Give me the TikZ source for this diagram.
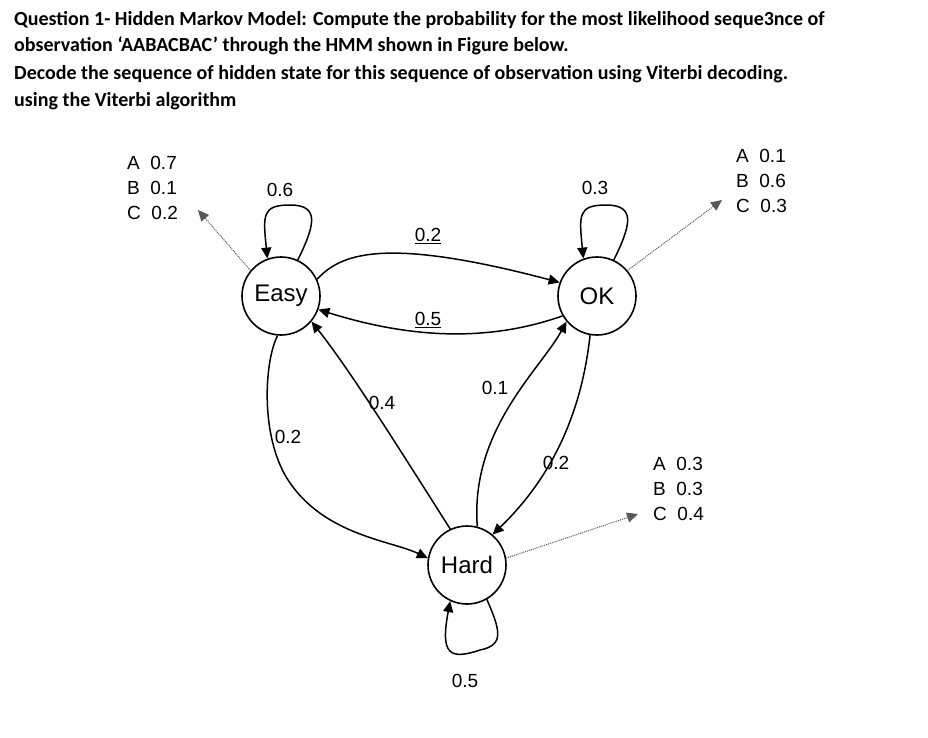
\documentclass[tikz,border=0pt]{standalone}
\usepackage{fontspec}
\setmainfont{Liberation Sans}
\newfontfamily\titlefont{Carlito}
\usetikzlibrary{arrows.meta}
\begin{document}
\begin{tikzpicture}[x=1pt,y=-1pt,
  st/.style={circle,draw,line width=1.6pt,minimum size=78pt,inner sep=0pt,font=\fontsize{24}{26}\selectfont},
  ed/.style={line width=1.5pt,-{Triangle[length=11pt,width=10pt]}},
  em/.style={densely dotted,line width=1pt,gray!70!black,-{Triangle[length=11pt,width=10pt]}},
  lb/.style={font=\fontsize{19}{21}\selectfont,inner sep=1pt},
  emt/.style={font=\fontsize{19}{25}\selectfont,align=left,anchor=north west,inner sep=0pt},
  tl/.style={font=\titlefont\bfseries\fontsize{20}{22}\selectfont,anchor=base west,inner sep=0pt}]
\useasboundingbox (0,0) rectangle (928,737);
\fill[white] (0,0) rectangle (928,737);
\node[tl] (t1) at (14,25) {Question 1- Hidden Markov Model: Compute the probability for the most likelihood seque3nce of};
\node[tl] (t2) at (14,51) {observation ‘AABACBAC’ through the HMM shown in Figure below.};
\node[tl] (t3) at (14,79) {Decode the sequence of hidden state for this sequence of observation using Viterbi decoding.};
\node[tl] (t4) at (14,106) {using the Viterbi algorithm};

\node[st] (E) at (281,296) {Easy};
\node[st] (O) at (597,296) {OK};
\node[st] (H) at (467,565) {Hard};

\node[emt] (eE) at (127,156) {A\ \ 0.7\\B\ \ 0.1\\C\ \ 0.2};
\node[emt] (eO) at (736,149) {A\ \ 0.1\\B\ \ 0.6\\C\ \ 0.3};
\node[emt] (eH) at (653,457) {A\ \ 0.3\\B\ \ 0.3\\C\ \ 0.4};

\coordinate (cE) at (198,210);
\coordinate (cO) at (722,200);
\coordinate (cH) at (638,514);
\draw[em] (E.140) -- (cE);
\draw[em] (O.40) -- (cO);
\draw[em] (H.10) -- (cH);

% self loops
\draw[ed] (E.65) .. controls (315,225) and (320,205) .. (290,205) .. controls (262,205) and (263,215) .. (E.110);
\node[lb] (l1) at (280,190) {0.6};
\draw[ed] (O.65) .. controls (631,225) and (636,205) .. (606,205) .. controls (578,205) and (579,215) .. (O.110);
\node[lb] (l2) at (595,188) {0.3};
\draw[ed] (H.-60) .. controls (500,630) and (505,645) .. (480,650) .. controls (450,660) and (440,655) .. (H.-115);
\node[lb] (l3) at (465,681) {0.5};

% between states
\draw[ed] (E.25) .. controls (340,255) and (380,235) .. (O.160);
\node[lb] (l4) at (428,236) {\underline{0.2}};
\draw[ed] (O.-150) .. controls (480,345) and (400,335) .. (E.-20);
\node[lb] (l5) at (428,320) {\underline{0.5}};
\draw[ed] (E.-95) .. controls (265,360) and (260,430) .. (285,475) .. controls (320,535) and (390,540) .. (H.170);
\node[lb] (l6) at (288,437) {0.2};
\draw[ed] (H.115) .. controls (400,450) and (350,370) .. (E.-40);
\node[lb] (l7) at (382,403) {0.4};
\draw[ed] (H.75) .. controls (470,430) and (540,370) .. (O.-140);
\node[lb] (l8) at (495,388) {0.1};
\draw[ed] (O.-100) .. controls (585,380) and (570,460) .. (H.50);
\node[lb] (l9) at (556,463) {0.2};
\end{tikzpicture}
\end{document}
